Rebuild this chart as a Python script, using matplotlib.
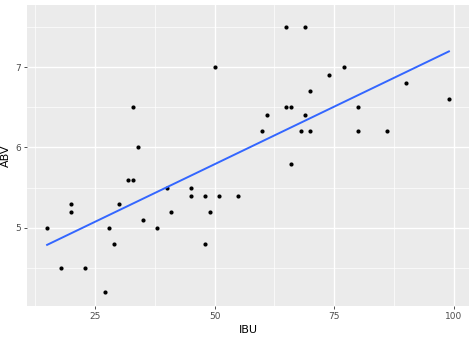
import matplotlib
matplotlib.use('Agg')
import matplotlib.pyplot as plt
import numpy as np

# beer bitterness vs alcohol
ibu = [15, 18, 20, 20, 23, 27, 28, 29, 30, 32, 33, 33, 34, 35, 38, 40, 41,
       45, 45, 48, 48, 49, 50, 51, 55, 60, 61, 65, 65, 66, 66, 68, 69, 69,
       70, 70, 74, 77, 80, 80, 86, 90, 99]
abv = [5.0, 4.5, 5.3, 5.2, 4.5, 4.2, 5.0, 4.8, 5.3, 5.6, 5.6, 6.5, 6.0, 5.1,
       5.0, 5.5, 5.2, 5.5, 5.4, 5.4, 4.8, 5.2, 7.0, 5.4, 5.4, 6.2, 6.4, 7.5,
       6.5, 6.5, 5.8, 6.2, 7.5, 6.4, 6.7, 6.2, 6.9, 7.0, 6.5, 6.2, 6.2, 6.8,
       6.6]
x_ticks = [25, 50, 75, 100]
y_ticks = [5, 6, 7]

x = np.array(ibu, dtype=float)
y = np.array(abv, dtype=float)

fig = plt.figure(figsize=(4.74, 3.38), dpi=100)
ax = fig.add_axes([0.057, 0.095, 0.9325, 0.89])
ax.set_facecolor('#EBEBEB')

# ggplot-ish grid
ax.set_xticks(x_ticks)
ax.set_yticks(y_ticks)
ax.set_xticks([12.5, 37.5, 62.5, 87.5], minor=True)
ax.set_yticks([4.5, 5.5, 6.5, 7.5], minor=True)
ax.grid(which='major', color='white', linewidth=1.0)
ax.grid(which='minor', color='white', linewidth=0.5)
ax.set_axisbelow(True)
for s in ax.spines.values():
    s.set_visible(False)
ax.tick_params(which='major', length=2.5, width=0.6, color='#333333',
               labelsize=6.5, labelcolor='#4D4D4D', pad=2)
ax.tick_params(which='minor', length=0)

ax.scatter(x, y, s=9, color='black', zorder=3, linewidths=0)

# linear fit, like geom_smooth(method = "lm", se = FALSE)
slope, icpt = np.polyfit(x, y, 1)
xs = np.array([x.min(), x.max()])
ax.plot(xs, icpt + slope * xs, color='#3366FF', linewidth=1.4, zorder=4)

ax.set_xlim(10.8, 103.2)
ax.set_ylim(4.03, 7.77)
ax.set_xlabel('IBU', fontsize=8, labelpad=3)
ax.set_ylabel('ABV', fontsize=8, labelpad=3)

fig.savefig('out.png', dpi=100)
